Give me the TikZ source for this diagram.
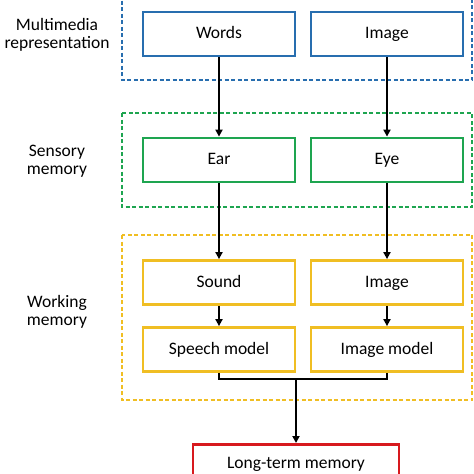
\documentclass[tikz,border=0pt]{standalone}
\usepackage{fontspec}
\setmainfont{Carlito}
\usetikzlibrary{arrows.meta}
\definecolor{cblue}{RGB}{40,110,175}
\definecolor{cgreen}{RGB}{30,165,80}
\definecolor{cyellow}{RGB}{240,190,35}
\definecolor{cred}{RGB}{215,25,30}
\tikzset{
  stagebox/.style={draw=#1, line width=2.8pt, minimum width=152pt, minimum height=44pt, inner sep=0pt, text height=12.5pt, text depth=3.5pt, font=\fontsize{17.5}{20}\selectfont, fill=white},
  groupbox/.style={draw=#1, line width=1.7pt, dash pattern=on 4pt off 2.5pt},
  lbl/.style={font=\fontsize{17.5}{20}\selectfont, align=center},
  arr/.style={line width=1.9pt, -{Triangle[length=7pt,width=7pt]}},
  ln/.style={line width=1.9pt}
}
\begin{document}
\begin{tikzpicture}[x=1pt,y=-1pt]
\useasboundingbox (0,0) rectangle (474,474);
\clip (0,0) rectangle (474,474);
% group boxes
\draw[groupbox=cblue] (122,-6) rectangle (472,80);
\draw[groupbox=cgreen] (122,113) rectangle (472,207);
\draw[groupbox=cyellow] (122,235) rectangle (472,400);
% labels
\node[lbl] (l1) at (57,35) {Multimedia\\[-2pt]representation};
\node[lbl] (l2) at (57,161) {Sensory\\[-2pt]memory};
\node[lbl] (l3) at (57,312) {Working\\[-2pt]memory};
% nodes
\node[stagebox=cblue] (words) at (219,34) {Words};
\node[stagebox=cblue] (img1) at (387,34) {Image};
\node[stagebox=cgreen] (ear) at (219,160) {Ear};
\node[stagebox=cgreen] (eye) at (387,160) {Eye};
\node[stagebox=cyellow] (sound) at (219,282.5) {Sound};
\node[stagebox=cyellow] (img2) at (387,282.5) {Image};
\node[stagebox=cyellow] (speech) at (219,349.5) {Speech model};
\node[stagebox=cyellow] (imgm) at (387,349.5) {Image model};
\node[stagebox=cred, minimum width=206pt, minimum height=0pt, anchor=north, text height=24pt, text depth=20pt] (ltm) at (296,443) {Long-term memory};
% connectors
\draw[arr] (words.south) -- (ear.north);
\draw[arr] (img1.south) -- (eye.north);
\draw[arr] (ear.south) -- (sound.north);
\draw[arr] (eye.south) -- (img2.north);
\draw[arr] (sound.south) -- (speech.north);
\draw[arr] (img2.south) -- (imgm.north);
\coordinate (jn) at (296,379);
\draw[ln] (speech.south) |- (jn) -| (imgm.south);
\draw[arr] (jn) -- (ltm.north);
\end{tikzpicture}
\end{document}
